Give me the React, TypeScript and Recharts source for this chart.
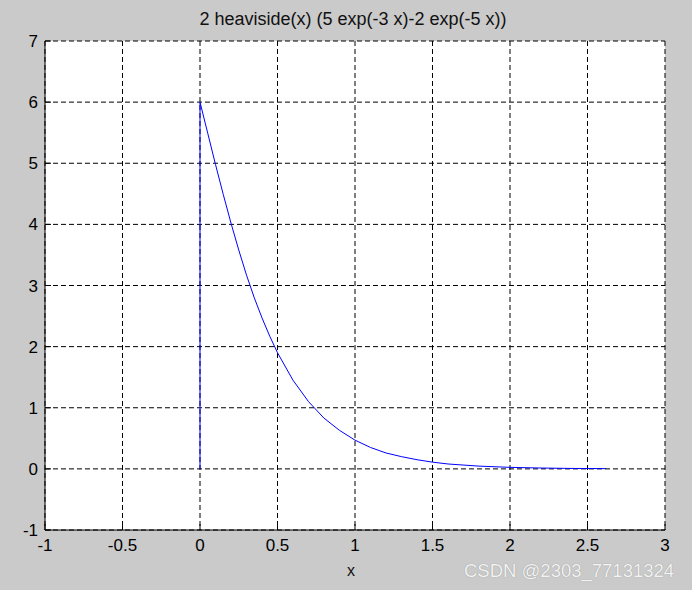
import { LineChart, Line, XAxis, YAxis, CartesianGrid } from "recharts";

// values
const xs = [0, 0, 0.05, 0.1, 0.15, 0.2, 0.25, 0.3, 0.35, 0.4, 0.45, 0.5, 0.6, 0.7, 0.8, 0.9, 1.0, 1.1, 1.2, 1.3, 1.4, 1.5, 1.6, 1.8, 2.0, 2.2, 2.4, 2.62];
const ys = [0, 6, 5.49, 4.98, 4.49, 4.02, 3.58, 3.17, 2.8, 2.47, 2.17, 1.9, 1.45, 1.1, 0.83, 0.63, 0.47, 0.35, 0.26, 0.2, 0.15, 0.11, 0.08, 0.045, 0.025, 0.014, 0.007, 0.004];
const xTicks = [-1, -0.5, 0, 0.5, 1, 1.5, 2, 2.5, 3];
const yTicks = [-1, 0, 1, 2, 3, 4, 5, 6, 7];

const data = xs.map((x, i) => ({ x, y: ys[i] }));

const font = "'Liberation Sans', Arial, sans-serif";
const tickStyle = { fontSize: 17, fill: "#000", fontFamily: font };

export default function App() {
  return (
    <div style={{ position: "absolute", left: 0, top: 0, width: 692, height: 590, background: "#cacaca", fontFamily: font }}>
      <div style={{ position: "absolute", left: 0, width: 706, top: 9, textAlign: "center", fontSize: 18, color: "#111" }}>
        2 heaviside(x) (5 exp(-3 x)-2 exp(-5 x))
      </div>
      <LineChart width={692} height={590} data={data} margin={{ top: 41, right: 27, left: 0, bottom: 0 }}>
        <CartesianGrid stroke="#000" strokeDasharray="5 3" fill="#fff" xAxisId={0} yAxisId={0} />
        <XAxis
          xAxisId={0}
          dataKey="x"
          type="number"
          domain={[-1, 3]}
          ticks={xTicks}
          height={60}
          stroke="#000"
          tickSize={-6}
          tickMargin={15}
          tick={tickStyle}
          interval={0}
        />
        <XAxis xAxisId="top" orientation="top" type="number" domain={[-1, 3]} ticks={xTicks} height={0} tick={false} tickSize={-6} stroke="#000" interval={0} />
        <YAxis
          yAxisId={0}
          type="number"
          domain={[-1, 7]}
          ticks={yTicks}
          width={45}
          stroke="#000"
          tickSize={-6}
          tickMargin={13}
          tick={tickStyle}
          interval={0}
        />
        <YAxis yAxisId="right" orientation="right" type="number" domain={[-1, 7]} ticks={yTicks} width={0} tick={false} tickSize={-6} stroke="#000" interval={0} />
        <Line xAxisId={0} yAxisId={0} type="linear" dataKey="y" stroke="#0000ff" strokeWidth={1} dot={false} isAnimationActive={false} />
      </LineChart>
      <div style={{ position: "absolute", left: 347, top: 562, fontSize: 16, color: "#111" }}>x</div>
      <div style={{ position: "absolute", left: 464, top: 560, fontSize: 18.5, color: "#f2f2f2", textShadow: "0 0 1px #888" }}>
        CSDN @2303_77131324
      </div>
    </div>
  );
}
